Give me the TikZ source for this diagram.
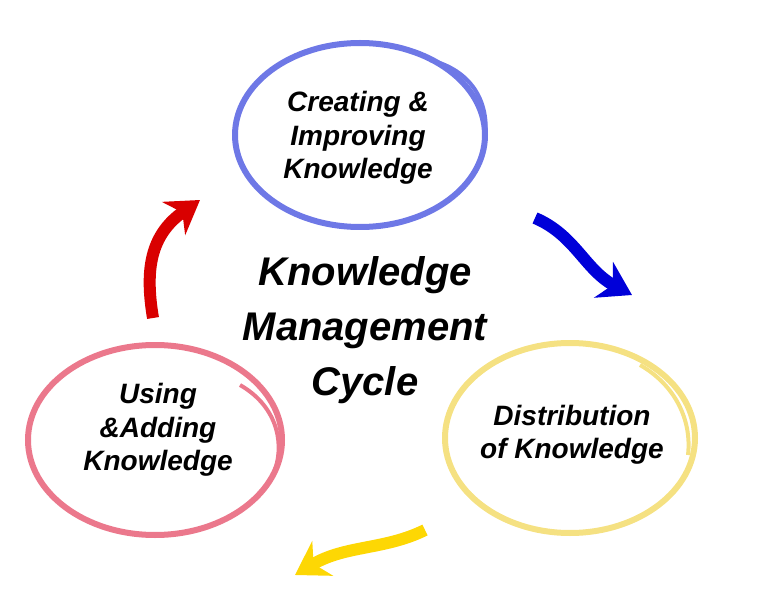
\documentclass[tikz,border=0pt]{standalone}
\usepackage{fontspec}
\setmainfont{Liberation Sans}
\usetikzlibrary{arrows.meta}
\begin{document}
\begin{tikzpicture}[x=0.75pt,y=-0.75pt,
  ring/.style={line width=4.5pt},
  lbl/.style={font=\bfseries\itshape\fontsize{21}{25}\selectfont,align=center},
  brush/.style={line width=9pt,-{Stealth[length=24pt,width=30pt]}}]
\useasboundingbox (0,0) rectangle (768,613);
\definecolor{cblue}{RGB}{110,120,230}
\definecolor{cyel}{RGB}{245,225,130}
\definecolor{cpink}{RGB}{235,120,140}
\draw[ring,cblue] (360,135) ellipse [x radius=125,y radius=92];
\draw[ring,cblue,line width=3pt] (430,60) .. controls (470,70) and (490,100) .. (485,140);
\draw[ring,cyel] (570,438) ellipse [x radius=125,y radius=95];
\draw[ring,cyel,line width=3pt] (640,365) .. controls (675,385) and (692,420) .. (688,455);
\draw[ring,cpink] (155,440) ellipse [x radius=127,y radius=95];
\draw[ring,cpink,line width=3pt] (240,385) .. controls (275,405) and (285,440) .. (275,470);
\node[lbl] (a) at (358,138) {Creating \&\\Improving\\Knowledge};
\node[lbl] (b) at (572,435) {Distribution\\of Knowledge};
\node[lbl] (c) at (158,430) {Using\\\&Adding\\Knowledge};
\node[font=\bfseries\itshape\fontsize{30}{41}\selectfont,align=center] (m) at (365,330) {Knowledge\\Management\\Cycle};
\coordinate (r0) at (153,318); \coordinate (r1) at (200,200);
\draw[brush,red!85!black] (r0) .. controls (145,270) and (150,235) .. (r1);
\coordinate (b0) at (535,218); \coordinate (b1) at (632,295);
\draw[brush,blue!85!black] (b0) .. controls (575,235) and (585,270) .. (b1);
\coordinate (y0) at (425,530); \coordinate (y1) at (295,575);
\draw[brush,yellow!75!orange] (y0) .. controls (385,550) and (345,545) .. (y1);
\end{tikzpicture}
\end{document}
